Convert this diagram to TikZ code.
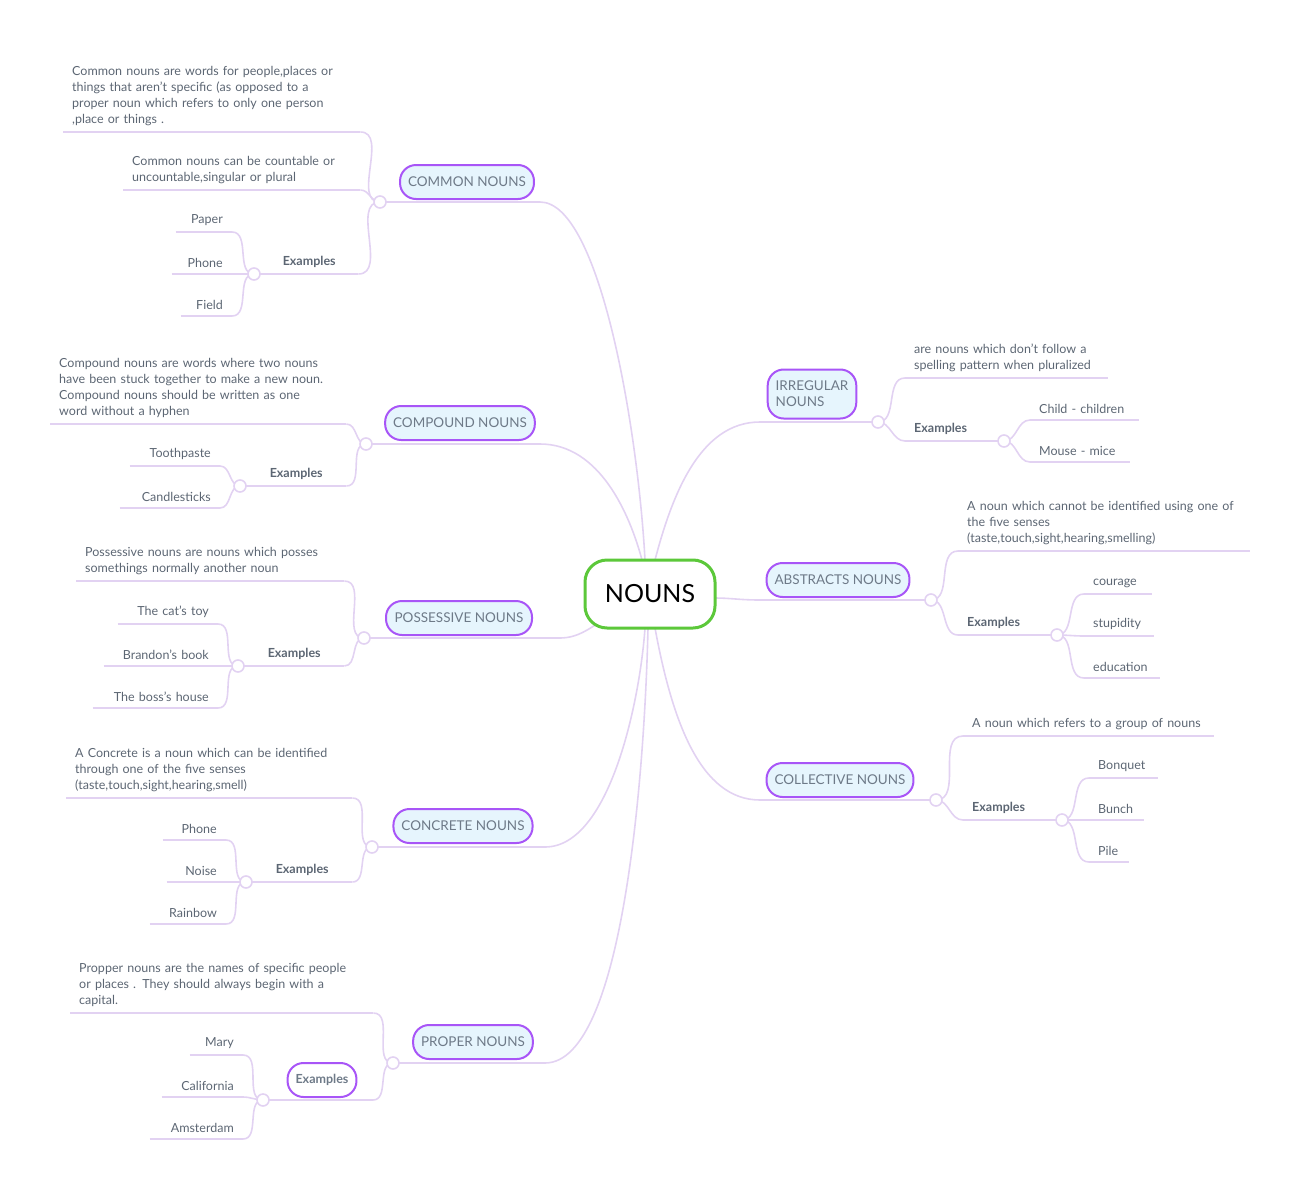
\documentclass[tikz,border=0pt]{standalone}
\usepackage{fontspec}
\setmainfont{Lato}
\usetikzlibrary{backgrounds}
\definecolor{lineC}{HTML}{E2D2F2}
\definecolor{txtC}{HTML}{5C6673}
\definecolor{brC}{HTML}{6E7A88}
\definecolor{boxC}{HTML}{E6F5FD}
\definecolor{purp}{HTML}{A855F7}
\definecolor{grn}{HTML}{5CC83A}
\tikzset{
 ln/.style={draw=lineC,line width=1.6pt},
 knot/.style={circle,draw=lineC,fill=white,line width=1.6pt,minimum size=12pt,inner sep=0pt},
 txt/.style={font=\fontsize{12.5}{16}\selectfont,text=txtC,inner xsep=9pt,inner ysep=6pt},
 lfL/.style={txt,anchor=south west,align=left},
 lfR/.style={txt,anchor=south east,align=right},
 exa/.style={txt,font=\fontsize{12.5}{16}\selectfont\bfseries,align=center},
 branch/.style={rectangle,rounded corners=16pt,fill=boxC,draw=purp,line width=2pt,text=brC,font=\fontsize{13.5}{16}\selectfont,minimum height=34pt,inner xsep=8pt,align=left},
}
\begin{document}
\begin{tikzpicture}[x=1pt,y=-1pt]
\useasboundingbox (0,0) rectangle (1300,1188);
% center
\node[rectangle,rounded corners=22pt,draw=grn,line width=3pt,fill=white,minimum width=130pt,minimum height=68pt,font=\fontsize{25}{30}\selectfont,text=black] (C) at (650,594) {NOUNS};
% ---------- COMMON
\node[branch,minimum width=130pt] (b1) at (467,182) {COMMON NOUNS};
\node[knot] (k1) at (380,202) {};
\coordinate (e1) at (540,202);
\node[lfL,text width=279pt] (d11) at (63,132) {Common nouns are words for people,places or\\things that aren't specific (as opposed to a\\proper noun which refers to only one person\\,place or things .};
\node[lfL,text width=219pt] (d12) at (123,190) {Common nouns can be countable or\\uncountable,singular or plural};
\node[exa,text width=80pt,anchor=south west] (x1) at (260,274) {Examples};
\node[knot] (kx1) at (254,274) {};
\node[lfR,text width=38pt] (l11) at (232,232) {Paper};
\node[lfR,text width=42pt] (l12) at (232,274) {Phone};
\node[lfR,text width=33pt] (l13) at (232,316) {Field};
% ---------- COMPOUND
\node[branch,minimum width=145pt] (b2) at (460,423) {COMPOUND NOUNS};
\node[knot] (k2) at (366,444) {};
\coordinate (e2) at (540,444);
\node[lfL,text width=278pt] (d21) at (50,424) {Compound nouns are words where two nouns\\have been stuck together to make a new noun.\\Compound nouns should be written as one\\word without a hyphen};
\node[exa,text width=82pt,anchor=south west] (x2) at (246,486) {Examples};
\node[knot] (kx2) at (240,486) {};
\node[lfR,text width=72pt] (l21) at (220,466) {Toothpaste};
\node[lfR,text width=82pt] (l22) at (220,508) {Candlesticks};
% ---------- POSSESSIVE
\node[branch,minimum width=146pt] (b3) at (459,618) {POSSESSIVE NOUNS};
\node[knot] (k3) at (364,638) {};
\coordinate (e3) at (560,638);
\node[lfL,text width=250pt] (d31) at (76,581) {Possessive nouns are nouns which posses\\somethings normally another noun};
\node[exa,text width=82pt,anchor=south west] (x3) at (244,666) {Examples};
\node[knot] (kx3) at (238,666) {};
\node[lfR,text width=82pt] (l31) at (218,624) {The cat's toy};
\node[lfR,text width=96pt] (l32) at (218,666) {Brandon's book};
\node[lfR,text width=107pt] (l33) at (218,708) {The boss's house};
% ---------- CONCRETE
\node[branch,minimum width=138pt] (b4) at (463,826) {CONCRETE NOUNS};
\node[knot] (k4) at (372,847) {};
\coordinate (e4) at (545,847);
\node[lfL,text width=268pt] (d41) at (66,798) {A Concrete is a noun which can be identified\\through one of the five senses\\(taste,touch,sight,hearing,smell)};
\node[exa,text width=82pt,anchor=south west] (x4) at (252,882) {Examples};
\node[knot] (kx4) at (246,882) {};
\node[lfR,text width=45pt] (l41) at (226,840) {Phone};
\node[lfR,text width=41pt] (l42) at (226,882) {Noise};
\node[lfR,text width=58pt] (l43) at (226,924) {Rainbow};
% ---------- PROPER
\node[branch,minimum width=118pt] (b5) at (473,1042) {PROPER NOUNS};
\node[knot] (k5) at (393,1063) {};
\coordinate (e5) at (545,1063);
\node[lfL,text width=285pt] (d51) at (70,1013) {Propper nouns are the names of specific people\\or places . They should always begin with a\\capital.};
\node[rectangle,rounded corners=16pt,draw=purp,fill=white,line width=2pt,minimum height=34pt,inner xsep=8pt,font=\fontsize{12.5}{16}\selectfont\bfseries,text=brC] (x5) at (322,1080) {Examples};
\node[knot] (kx5) at (263,1100) {};
\coordinate (x5e) at (373,1100);
\node[lfR,text width=35pt] (l51) at (243,1055) {Mary};
\node[lfR,text width=63pt] (l52) at (243,1097) {California};
\node[lfR,text width=75pt] (l53) at (243,1139) {Amsterdam};
% ---------- IRREGULAR
\node[branch,minimum width=88pt,minimum height=49pt,font=\fontsize{13.5}{16}\selectfont] (b6) at (812,394) {IRREGULAR\\NOUNS};
\node[knot] (k6) at (878,422) {};
\coordinate (s6) at (760,422);
\node[lfL,text width=185pt] (d61) at (905,378) {are nouns which don't follow a\\spelling pattern when pluralized};
\node[exa,text width=75pt,anchor=south west,align=left] (x6) at (905,441) {Examples};
\node[knot] (kx6) at (1004,441) {};
\node[lfL,text width=91pt] (l61) at (1030,420) {Child - children};
\node[lfL,text width=82pt] (l62) at (1030,462) {Mouse - mice};
% ---------- ABSTRACTS
\node[branch,minimum width=142pt] (b7) at (838,580) {ABSTRACTS NOUNS};
\node[knot] (k7) at (931,600) {};
\coordinate (s7) at (715,598);
\node[lfL,text width=274pt] (d71) at (958,551) {A noun which cannot be identified using one of\\the five senses\\(taste,touch,sight,hearing,smelling)};
\node[exa,text width=75pt,anchor=south west,align=left] (x7) at (958,635) {Examples};
\node[knot] (kx7) at (1057,635) {};
\node[lfL,text width=50pt] (l71) at (1084,594) {courage};
\node[lfL,text width=52pt] (l72) at (1084,636) {stupidity};
\node[lfL,text width=58pt] (l73) at (1084,678) {education};
% ---------- COLLECTIVE
\node[branch,minimum width=146pt] (b8) at (840,780) {COLLECTIVE NOUNS};
\node[knot] (k8) at (936,800) {};
\coordinate (s8) at (760,800);
\node[lfL,text width=233pt] (d81) at (963,736) {A noun which refers to a group of nouns};
\node[exa,text width=75pt,anchor=south west,align=left] (x8) at (963,820) {Examples};
\node[knot] (kx8) at (1062,820) {};
\node[lfL,text width=51pt] (l81) at (1089,778) {Bonquet};
\node[lfL,text width=37pt] (l82) at (1089,820) {Bunch};
\node[lfL,text width=22pt] (l83) at (1089,862) {Pile};
% ---------- lines
\begin{scope}[on background layer]
\foreach \n in {d11,d12,x1,l11,l12,l13,d21,x2,l21,l22,d31,x3,l31,l32,l33,d41,x4,l41,l42,l43,d51,l51,l52,l53,d61,x6,l61,l62,d71,x7,l71,l72,l73,d81,x8,l81,l82,l83}
  \draw[ln] (\n.south west) -- (\n.south east);
% left knots
\foreach \k/\a in {k1/d11,k1/d12,k1/x1,kx1/l11,kx1/l12,kx1/l13,k2/d21,k2/x2,kx2/l21,kx2/l22,k3/d31,k3/x3,kx3/l31,kx3/l32,kx3/l33,k4/d41,k4/x4,kx4/l41,kx4/l42,kx4/l43,k5/d51,kx5/l51,kx5/l52,kx5/l53}
  \draw[ln] (\k.center) to[out=180,in=0] (\a.south east);
\draw[ln] (kx5.center) -- (x5e) to[out=0,in=180] (k5.center);
% right knots
\foreach \k/\a in {k6/d61,k6/x6,kx6/l61,kx6/l62,k7/d71,k7/x7,kx7/l71,kx7/l72,kx7/l73,k8/d81,k8/x8,kx8/l81,kx8/l82,kx8/l83}
  \draw[ln] (\k.center) to[out=0,in=180] (\a.south west);
% main branches
\draw[ln] (k1.center) -- (e1) .. controls (600,202) and (638,430) .. (645,560);
\draw[ln] (k2.center) -- (e2) .. controls (600,444) and (630,515) .. (642,560);
\draw[ln] (k3.center) -- (e3) .. controls (578,638) and (590,628) .. (600,622);
\draw[ln] (k4.center) -- (e4) .. controls (610,847) and (640,700) .. (645,628);
\draw[ln] (k5.center) -- (e5) .. controls (625,1063) and (645,760) .. (648,628);
\draw[ln] (655,560) .. controls (672,495) and (700,422) .. (s6) -- (k6.center);
\draw[ln] (s7) .. controls (730,598) and (740,600) .. (760,600) -- (k7.center);
\draw[ln] (655,628) .. controls (672,720) and (700,800) .. (s8) -- (k8.center);
\end{scope}
\end{tikzpicture}
\end{document}
